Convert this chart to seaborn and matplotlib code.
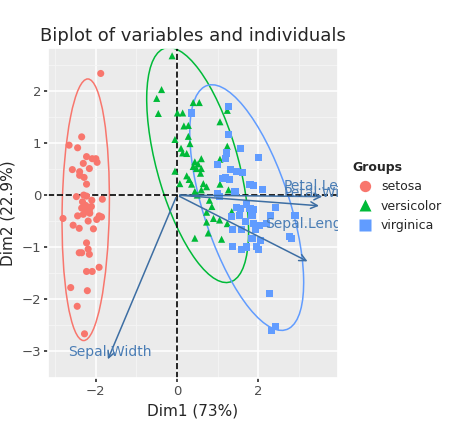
import matplotlib as mpl
mpl.use('Agg')
import matplotlib.pyplot as plt
from matplotlib.patches import Ellipse
import numpy as np
import pandas as pd
import seaborn as sns

# individuals (PCA scores)
setosa_x = [-1.88, -2.35, -2.66, -2.45, -2.23, -2.09, -1.97, -2.31, -2.16, -2.58,
            -2.40, -2.29, -2.23, -2.48, -2.23, -1.84, -2.33, -2.11, -2.28, -2.23,
            -2.16, -2.31, -2.81, -1.92, -1.86, -1.98, -2.19, -2.56, -2.41, -2.06,
            -2.23, -2.19, -2.41, -2.35, -2.16, -2.23, -2.09, -1.92, -2.62, -2.21,
            -2.46, -2.28, -2.25, -2.35, -2.15, -2.30, -2.00, -2.40, -2.10, -2.45]
setosa_y = [2.34, 1.12, 0.96, 0.91, 0.74, 0.70, 0.63, 0.61, 0.51, 0.49,
            0.38, 0.34, 0.21, -0.03, -0.02, -0.08, -0.13, -0.22, -0.26, -0.32,
            -0.29, -0.37, -0.45, -0.40, -0.42, -0.47, -0.50, -0.58, -0.64, -0.65,
            -0.92, -1.04, -1.11, -1.11, -1.14, -1.47, -1.47, -1.39, -1.78, -1.84,
            -2.14, -2.67, -0.20, -0.25, -0.35, 0.00, 0.70, 0.45, -0.10, -0.40]
versicolor_x = [-0.12, -0.38, -0.50, -0.46, 0.40, 0.55, 0.01, 0.14, 0.17, 0.28,
                1.06, 1.24, -0.05, 0.28, 0.32, 1.24, 0.14, 0.24, 1.06, 0.44,
                0.52, 0.48, 0.60, 0.58, -0.05, 0.24, 0.07, 0.36, 0.65, 0.73,
                1.06, 0.60, 0.44, 1.27, 0.86, 0.73, 1.35, 0.90, 1.05, 0.73,
                1.24, 0.77, 0.44, 1.10, 0.30, 0.50, 0.60, 0.80, 0.40, 0.10]
versicolor_y = [2.68, 2.03, 1.86, 1.57, 1.78, 1.78, 1.58, 1.58, 1.33, 1.34,
                1.41, 1.63, 1.07, 1.13, 0.99, 0.94, 0.81, 0.80, 0.69, 0.64,
                0.60, 0.51, 0.51, 0.42, 0.46, 0.37, 0.22, 0.21, 0.22, 0.16,
                0.21, 0.10, 0.07, 0.10, -0.22, -0.33, -0.32, -0.45, -0.48, -0.52,
                -0.55, -0.73, -0.83, -0.85, 0.30, 0.00, 0.70, -0.10, 0.55, 0.90]
virginica_x = [0.36, 1.27, 1.27, 1.56, 2.01, 1.21, 1.19, 0.99, 1.33, 1.47,
               1.62, 1.13, 1.19, 1.80, 1.89, 1.43, 1.00, 1.05, 1.47, 1.56,
               1.72, 1.80, 1.89, 1.85, 2.44, 2.91, 2.31, 1.35, 2.20, 1.89,
               2.03, 1.37, 1.60, 1.93, 1.85, 2.07, 2.77, 2.83, 1.37, 1.60,
               1.72, 1.97, 2.01, 2.28, 2.44, 2.32, 1.70, 1.55, 2.10, 1.30]
virginica_y = [1.58, 1.71, 1.17, 0.90, 0.72, 0.81, 0.70, 0.58, 0.49, 0.45,
               0.43, 0.32, 0.34, 0.21, 0.19, 0.06, 0.03, -0.03, -0.24, -0.25,
               -0.18, -0.25, -0.28, -0.40, -0.24, -0.40, -0.40, -0.41, -0.55, -0.55,
               -0.58, -0.67, -0.66, -0.66, -0.84, -0.88, -0.80, -0.84, -0.99, -1.05,
               -1.00, -0.99, -1.04, -1.90, -2.53, -2.61, -0.50, -0.40, 0.10, 0.30]

# variables (arrow ends and label anchors)
var_names = ['Petal.Length', 'Petal.Width', 'Sepal.Length', 'Sepal.Width']
var_x = [3.65, 3.57, 3.28, -1.73]
var_y = [-0.03, -0.21, -1.30, -3.21]
lab_x = [2.62, 2.62, 2.17, -2.69]
lab_y = [0.17, 0.04, -0.56, -3.02]

groups = ['setosa', 'versicolor', 'virginica']
colors = ['#F8766D', '#00BA38', '#619CFF']

df = pd.DataFrame({
    'x': setosa_x + versicolor_x + virginica_x,
    'y': setosa_y + versicolor_y + virginica_y,
    'Groups': ['setosa'] * len(setosa_x) + ['versicolor'] * len(versicolor_x)
              + ['virginica'] * len(virginica_x),
})

sns.set_theme(style='darkgrid', rc={'axes.facecolor': '#EBEBEB',
                                    'grid.color': 'white'})
plt.rcParams['font.family'] = ['DejaVu Sans']

fig = plt.figure(figsize=(4.74, 4.26), dpi=100)
ax = fig.add_axes([48 / 474, 48 / 426, 290 / 474, 330 / 426])

palette = dict(zip(groups, colors))
sns.scatterplot(data=df, x='x', y='y', hue='Groups', style='Groups',
                markers={'setosa': 'o', 'versicolor': '^', 'virginica': 's'},
                palette=palette, s=26, edgecolor='none', ax=ax, zorder=3)

# 95% ellipses per group
for g in groups:
    sub = df[df.Groups == g]
    cov = np.cov(sub.x, sub.y)
    vals, vecs = np.linalg.eigh(cov)
    r = 2.75
    ang = np.degrees(np.arctan2(vecs[1, 1], vecs[0, 1]))
    ax.add_patch(Ellipse((sub.x.mean(), sub.y.mean()), 2 * r * np.sqrt(vals[1]),
                         2 * r * np.sqrt(vals[0]), angle=ang, fill=False,
                         edgecolor=palette[g], lw=1.1, zorder=2))

ax.axhline(0, color='black', ls='--', lw=1.2, zorder=2)
ax.axvline(0, color='black', ls='--', lw=1.2, zorder=2)

for name, vx, vy, tx, ty in zip(var_names, var_x, var_y, lab_x, lab_y):
    ax.annotate('', xy=(vx, vy), xytext=(0, 0),
                arrowprops=dict(arrowstyle='->', color='#3D6EA3', lw=1.1), zorder=4)
    ax.text(tx, ty, name, color='#4A7DB5', fontsize=10, ha='left',
            va='center', clip_on=True, zorder=4)

ax.set_xlim(-3.18, 3.97)
ax.set_ylim(-3.52, 2.83)
ax.set_xticks([-2, 0, 2])
ax.set_yticks([-3, -2, -1, 0, 1, 2])
ax.set_xticks([-3, -1, 1, 3], minor=True)
ax.set_yticks([-2.5, -1.5, -0.5, 0.5, 1.5, 2.5], minor=True)
ax.grid(which='major', color='white', lw=1.1)
ax.grid(which='minor', color='#F5F5F5', lw=0.6)
ax.tick_params(which='minor', length=0)
ax.tick_params(which='major', length=3, color='#333333', labelsize=9.5,
               labelcolor='#4D4D4D', left=True, bottom=True, pad=2)
ax.set_xlabel('Dim1 (73%)', fontsize=11)
ax.set_ylabel('Dim2 (22.9%)', fontsize=11)
ax.set_title('Biplot of variables and individuals', fontsize=13, pad=5)

leg = ax.legend(title='Groups', loc='center left', bbox_to_anchor=(1.01, 0.55),
                frameon=False, fontsize=9, title_fontproperties={'weight': 'bold', 'size': 9},
                markerscale=1.6, handletextpad=0.3)
leg._legend_box.align = 'left'

fig.savefig('out.png', dpi=100)
